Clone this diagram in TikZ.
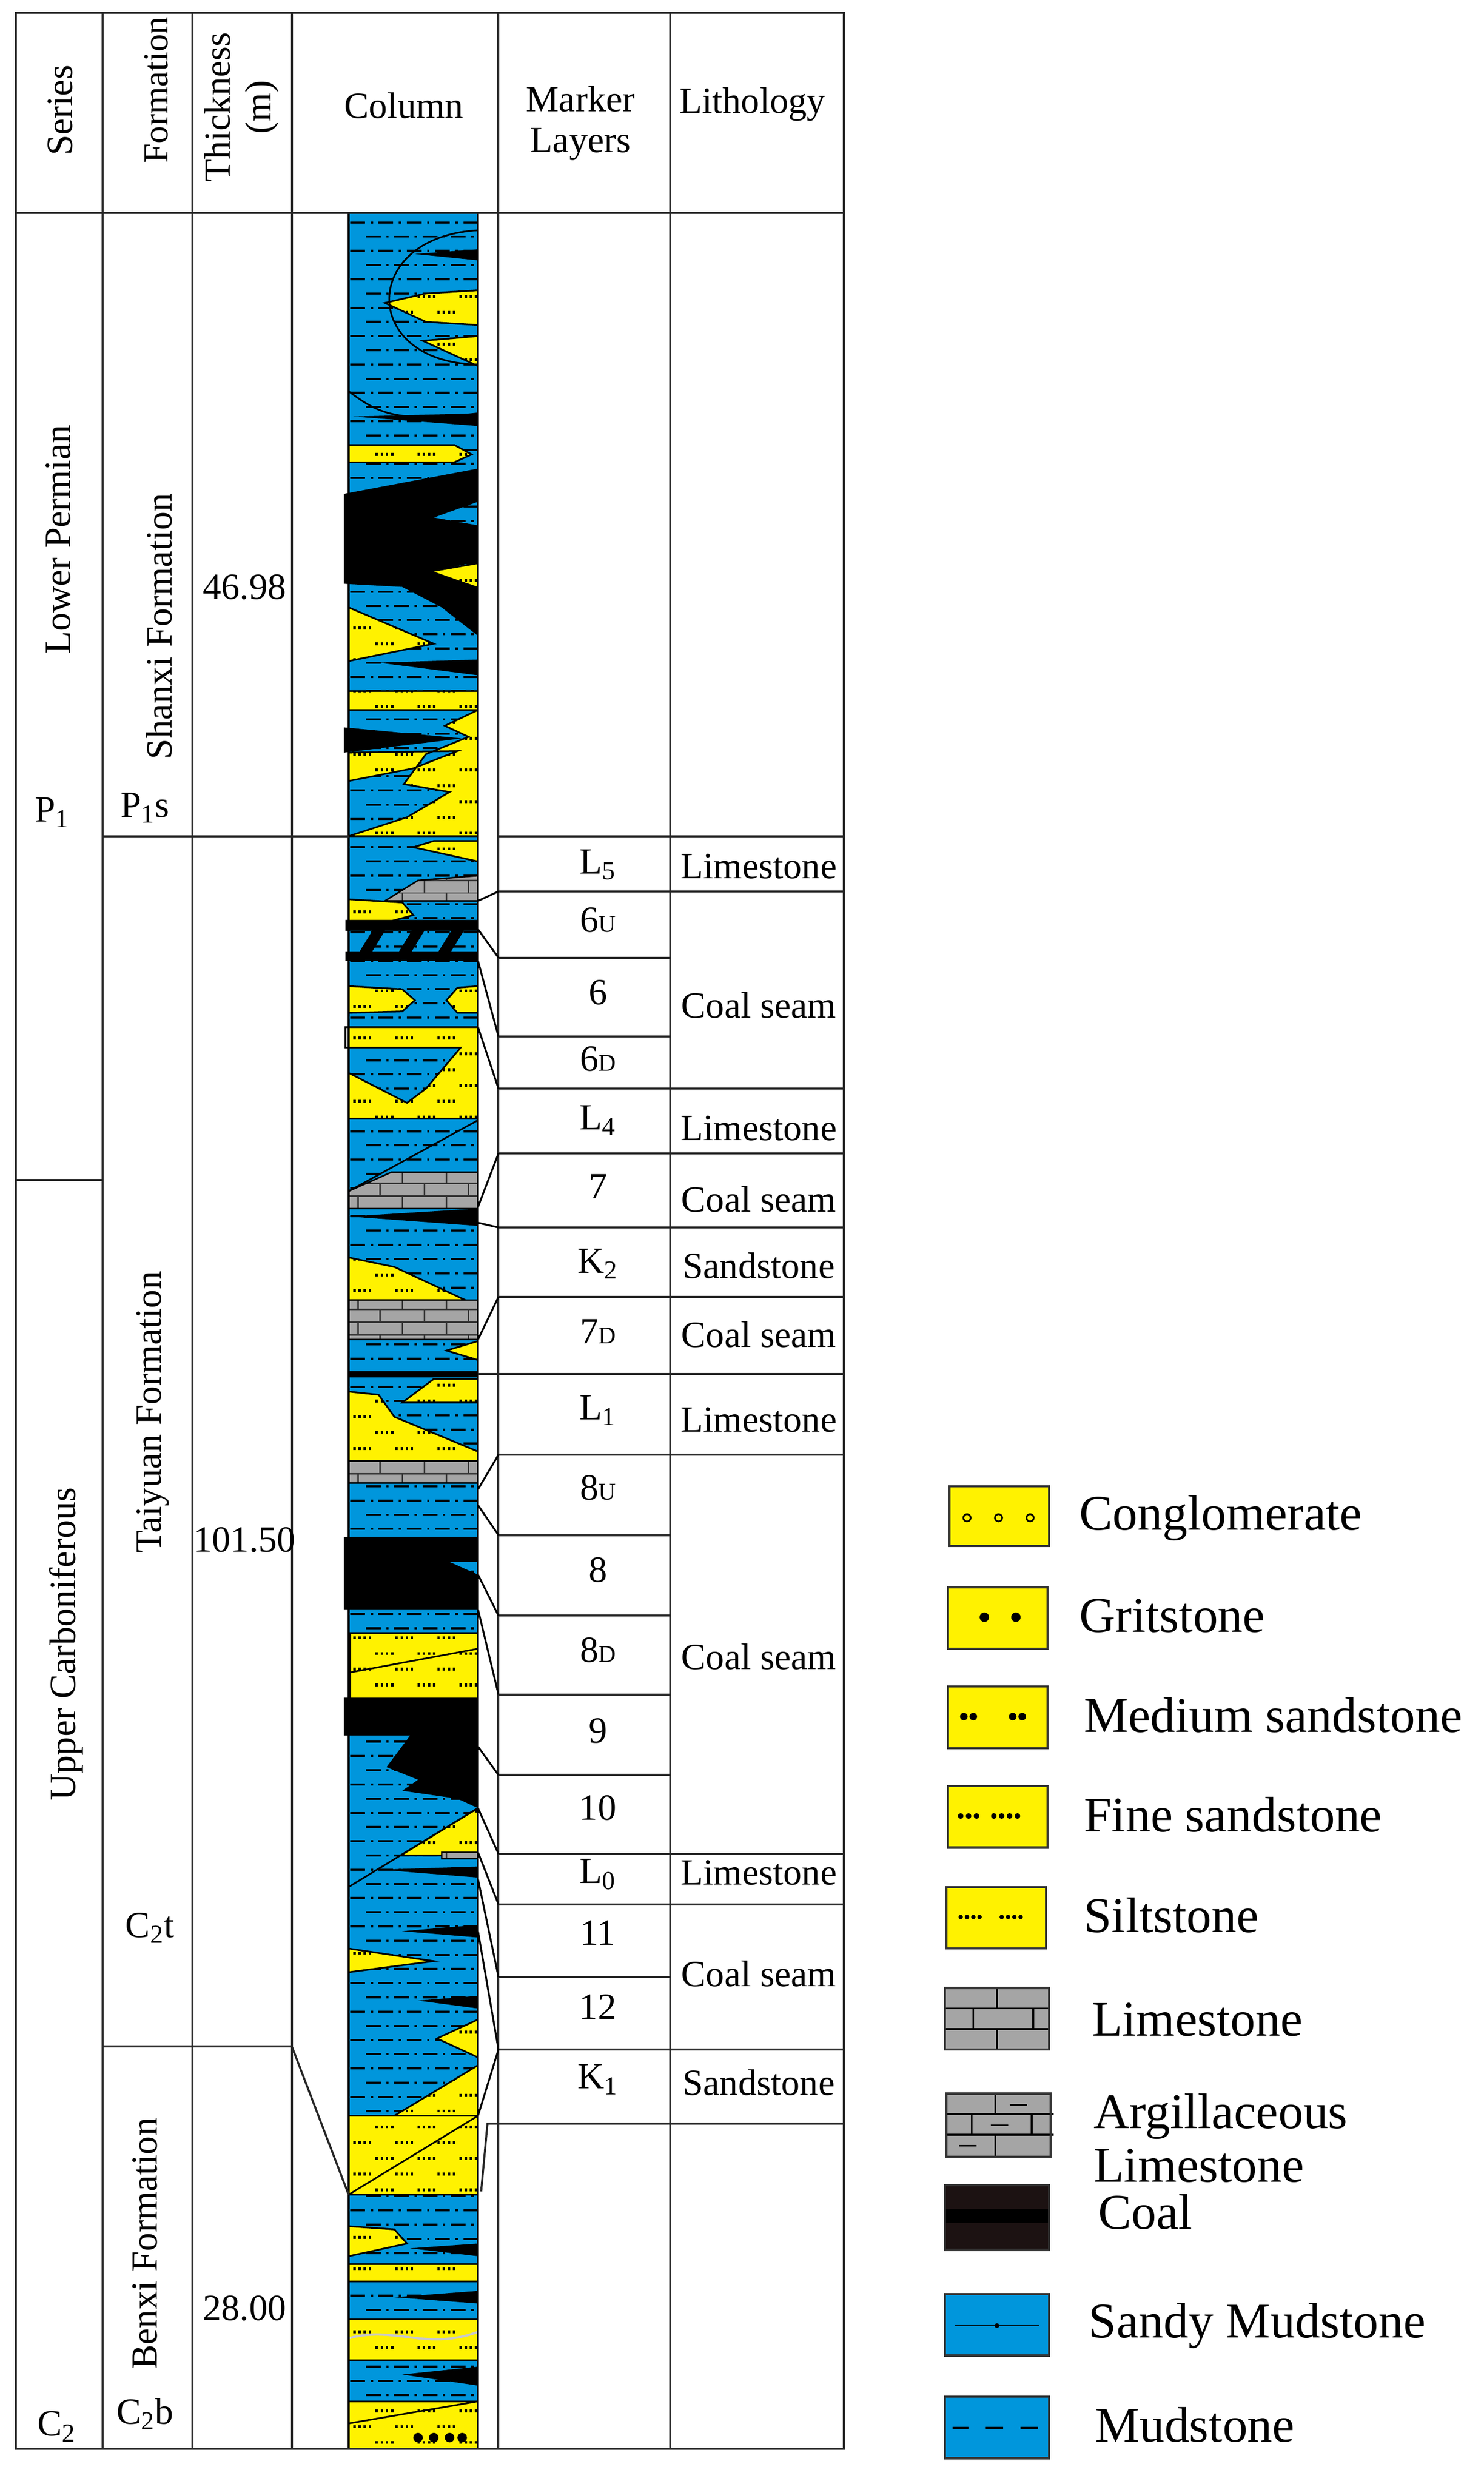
\documentclass[tikz,border=0pt]{standalone}
\usepackage{fontspec}
\setmainfont{Liberation Serif}
\definecolor{blu}{RGB}{0,150,220}
\definecolor{ylw}{RGB}{255,242,0}
\definecolor{gry}{RGB}{165,165,165}
\definecolor{coalc}{RGB}{28,18,18}
\newcommand{\sbs}[1]{\textsubscript{#1}}
\tikzset{
 tbl/.style={line width=1.1pt,black!85},
 conn/.style={line width=1pt},
 lbl/.style={font=\fontsize{20}{22}\selectfont,inner sep=0pt},
 leg/.style={font=\fontsize{27}{29}\selectfont,inner sep=0pt,anchor=west},
 mud/.style={line width=1.1pt,dash pattern=on 8pt off 3pt on 1.3pt off 3pt},
 dots/.style={line width=1.6pt,dash pattern=on 1.3pt off 1.5pt on 1.3pt off 1.5pt on 1.3pt off 1.5pt on 1.3pt off 13pt},
 legbox/.style={line width=1.2pt,draw=black!80},
}
\newcommand{\ylwpath}{
(244,192) -- (270,186) -- (303,184) -- (303,206) -- (270,204) -- cycle
(268,216) -- (303,213) -- (303,232) -- cycle
(221,282) -- (288,282) -- (299,288) -- (288,293) -- (221,293) -- cycle
(274,362) -- (303,357) -- (303,372) -- (282,372) -- cycle
(221,385) -- (275,408) -- (221,419) -- cycle
(221,438) -- (303,438) -- (303,450) -- (221,450) -- cycle
(303,450) -- (282,460) -- (297,467) -- (270,478) -- (256,497) -- (285,502) -- (258,518) -- (221,530) -- (303,530) -- cycle
(221,477) -- (290,476) -- (262,487) -- (221,495) -- cycle
(262,537) -- (275,533) -- (303,533) -- (303,546) -- cycle
(221,570) -- (255,572) -- (262,580) -- (240,586) -- (221,586) -- cycle
(221,625) -- (255,627) -- (263,634) -- (255,641) -- (221,642) -- cycle
(303,625) -- (290,626) -- (283,634) -- (290,642) -- (303,642) -- cycle
(219,651) -- (303,651) -- (303,709) -- (221,709) -- (221,680) -- (258,699) -- (270,690) -- (292,664) -- (219,664) -- cycle
(221,797) -- (250,803) -- (295,824) -- (221,824) -- cycle
(283,856) -- (303,850) -- (303,862) -- cycle
(255,889) -- (275,874) -- (303,874) -- (303,889) -- cycle
(221,882) -- (240,884) -- (250,898) -- (303,920) -- (303,926) -- (221,926) -- cycle
(222,1035) -- (303,1035) -- (303,1078) -- (222,1078) -- cycle
(275,1110) -- (303,1100) -- (303,1117) -- cycle
(254,1176) -- (303,1146) -- (303,1176) -- cycle
(221,1235) -- (275,1243) -- (221,1250) -- cycle
(277,1292) -- (303,1280) -- (303,1304) -- cycle
(250,1341) -- (303,1309) -- (303,1341) -- cycle
(221,1341) -- (303,1341) -- (303,1391) -- (221,1391) -- cycle
(221,1411) -- (250,1413) -- (258,1422) -- (221,1430) -- cycle
(221,1435) -- (303,1435) -- (303,1446) -- (221,1446) -- cycle
(221,1470) -- (303,1470) -- (303,1496) -- (221,1496) -- cycle
(221,1522) -- (303,1522) -- (303,1552) -- (221,1552) -- cycle
}
\newcommand{\grypath}{
(244,571) -- (265,558) -- (303,555) -- (303,571) -- cycle
(221,755) -- (248,743) -- (303,743) -- (303,766) -- (221,766) -- cycle
(221,824) rectangle (303,849)
(221,926) rectangle (303,940)
(280,1174) rectangle (303,1178)
}
\newcommand{\coalpath}{
(263,161) -- (303,158) -- (303,165) -- cycle
(224,264) -- (303,262) -- (303,270) -- cycle
(218,313) -- (303,297) -- (303,318) -- (275,328) -- (303,333) -- (303,356) -- (274,362) -- (303,372) -- (303,403) -- (280,385) -- (255,372) -- (218,370) -- cycle
(240,420) -- (303,418) -- (303,428) -- cycle
(218,461) -- (293,468) -- (218,477) -- cycle
(219,583) rectangle (303,590)
(219,603) rectangle (303,609)
(228,603) -- (236,590) -- (244,590) -- (236,603) -- cycle
(253,603) -- (261,590) -- (269,590) -- (261,603) -- cycle
(278,603) -- (286,590) -- (294,590) -- (286,603) -- cycle
(221,771) -- (303,766) -- (303,777) -- cycle
(221,869) rectangle (303,873)
(218,974) -- (303,974) -- (303,990) -- (285,990) -- (303,998) -- (303,1020) -- (218,1020) -- cycle
(218,1076) -- (303,1076) -- (303,1146) -- (290,1140) -- (255,1135) -- (265,1128) -- (245,1120) -- (260,1100) -- (218,1100) -- cycle
(240,1185) -- (303,1183) -- (303,1190) -- cycle
(255,1224) -- (303,1220) -- (303,1228) -- cycle
(265,1268) -- (303,1265) -- (303,1273) -- cycle
(260,1425) -- (303,1422) -- (303,1430) -- cycle
(250,1456) -- (303,1452) -- (303,1460) -- cycle
(255,1505) -- (303,1500) -- (303,1512) -- cycle
}
\begin{document}
\begin{tikzpicture}[x=0.03cm,y=-0.03cm]
\useasboundingbox (0,0) rectangle (940.5,1574.4);
\fill[white] (0,0) rectangle (940.5,1574.4);
% ---- column ----
\fill[blu] (221,135) rectangle (303,1552);
\begin{scope}
\clip (221,135) rectangle (303,1552);
\foreach \r in {0,...,78}{
 \draw[mud] (222,{141+18*\r}) -- (303,{141+18*\r});
 \draw[mud] (232,{150+18*\r}) -- (303,{150+18*\r});
}
\fill[ylw] \ylwpath;
\begin{scope}
 \clip \ylwpath;
 \foreach \r in {0,...,142}{
  \draw[dots] ({224+mod(\r,2)*14},{138+10*\r}) -- (303,{138+10*\r});
 }
\end{scope}
\end{scope}
\draw[line width=0.9pt] \ylwpath;
\fill[gry] \grypath;
\begin{scope}
 \clip \grypath;
 \foreach \r in {0,...,80}{
  \draw[line width=0.8pt,black!80] (221,{550+8*\r}) -- (303,{550+8*\r});
  \foreach \k in {0,...,3}{
   \draw[line width=0.8pt,black!80] ({227+mod(\r,2)*14+28*\k},{550+8*\r}) -- ++(0,8);
  }
 }
\end{scope}
\draw[line width=0.8pt] \grypath;
\fill[black] \coalpath;
% thin contact lines
\draw[line width=0.9pt] (303,146) .. controls (228,150) and (228,230) .. (303,231);
\draw[line width=0.9pt] (221,248) .. controls (240,262) and (250,268) .. (303,262);
\draw[line width=0.9pt] (221,755) -- (303,710);
\draw[line width=0.9pt] (221,1196) -- (303,1146);
\draw[line width=0.9pt] (221,1391) -- (303,1341);
\draw[line width=0.9pt] (222,1060) -- (303,1045);
\draw[line width=1.2pt,gry!60] (221,1482) .. controls (250,1474) and (270,1490) .. (303,1478);
\draw[line width=0.9pt] (221,1536) -- (303,1522);
\foreach \xx in {265,275,285,293}{\fill[black] (\xx,1545) circle (3);}
\draw[line width=1pt] (221,135) rectangle (303,1552);
% ---- table ----
\draw[tbl] (10,8) rectangle (535,1552);
\foreach \xx in {65,122,185,316,425}{\draw[tbl] (\xx,8) -- (\xx,1552);}
\draw[tbl] (10,135) -- (535,135);
\draw[tbl] (10,748) -- (65,748);
\draw[tbl] (65,530) -- (221,530);
\draw[tbl] (316,530) -- (535,530);
\draw[tbl] (65,1297) -- (185,1297) -- (221,1391);
% marker row lines
\foreach \ym/\yc in {565/571,690/651,731/765,778/775,822/849,922/944,1175/1146,1207/1174,1299/1224}{
 \draw[tbl] (316,\ym) -- (535,\ym);
 \draw[conn] (303,\yc) -- (316,\ym);
}
\foreach \ym/\yc in {607/589,657/609,973/954,1024/998,1074/1020,1125/1107,1253/1191}{
 \draw[tbl] (316,\ym) -- (425,\ym);
 \draw[conn] (303,\yc) -- (316,\ym);
}
\draw[tbl] (303,871) -- (535,871);
\draw[conn] (303,1341) -- (316,1299);
\draw[tbl] (535,1346) -- (309,1346) -- (305,1389);
% header
\node[lbl,rotate=90] (hs) at (38,70) {Series};
\node[lbl,rotate=90,font=\fontsize{19}{21}\selectfont] (hf) at (99,57) {Formation};
\node[lbl,rotate=90,align=center] (ht) at (153,68) {Thickness\\(m)};
\node[lbl] (hc) at (256,67) {Column};
\node[lbl,align=center] (hm) at (368,78) {Marker\\Layers};
\node[lbl] (hl) at (477,66) {Lithology};
% series / formation
\node[lbl,rotate=90] (s1) at (37,342) {Lower Permian};
\node[lbl] (s1c) at (33,515) {P\sbs{1}};
\node[lbl,rotate=90] (s2) at (42,1042) {Upper Carboniferous};
\node[lbl] (s2c) at (36,1538) {C\sbs{2}};
\node[lbl,rotate=90] (f1) at (101,397) {Shanxi Formation};
\node[lbl] (f1c) at (92,512) {P\sbs{1}s};
\node[lbl,rotate=90] (f2) at (97,895) {Taiyuan Formation};
\node[lbl] (f2c) at (95,1222) {C\sbs{2}t};
\node[lbl,rotate=90] (f3) at (92,1422) {Benxi Formation};
\node[lbl] (f3c) at (92,1530) {C\sbs{2}b};
\node[lbl] (t1) at (155,372) {46.98};
\node[lbl] (t2) at (155,976) {101.50};
\node[lbl] (t3) at (155,1463) {28.00};
% markers
\newcommand{\sm}[1]{{\fontsize{13}{13}\selectfont #1}}
\foreach \nm/\yy/\tx in {m1/548/L\sbs{5},m2/583/6\sm{U},m3/629/6,m4/671/6\sm{D},m5/710/L\sbs{4},m6/752/7,m7/801/K\sbs{2},m8/844/7\sm{D},m9/894/L\sbs{1},m10/943/8\sm{U},m11/995/8,m12/1046/8\sm{D},m13/1097/9,m14/1146/10,m15/1188/L\sbs{0},m16/1225/11,m17/1272/12,m18/1318/K\sbs{1}}{
 \node[lbl] (\nm) at (379,\yy) {\tx};
}
\foreach \nm/\yy/\tx in {l1/549/Limestone,l2/637/Coal seam,l3/715/Limestone,l4/760/Coal seam,l5/802/Sandstone,l6/846/Coal seam,l7/900/Limestone,l8/1050/Coal seam,l9/1187/Limestone,l10/1251/Coal seam,l11/1320/Sandstone}{
 \node[lbl] (\nm) at (481,\yy) {\tx};
}
% ---- legend ----
\begin{scope}
\fill[ylw] (602,942) rectangle (665,980); \draw[legbox] (602,942) rectangle (665,980);
\foreach \xx in {613,633,653}{\draw[line width=0.9pt] (\xx,962) circle (2.3);}
\fill[ylw] (601,1006) rectangle (664,1045); \draw[legbox] (601,1006) rectangle (664,1045);
\foreach \xx in {624,644}{\fill (\xx,1025) circle (3);}
\fill[ylw] (601,1069) rectangle (664,1108); \draw[legbox] (601,1069) rectangle (664,1108);
\foreach \xx in {611,617,642,648}{\fill (\xx,1088) circle (2.4);}
\fill[ylw] (601,1132) rectangle (664,1171); \draw[legbox] (601,1132) rectangle (664,1171);
\foreach \xx in {609,614,619,630,635,640,645}{\fill (\xx,1151) circle (1.8);}
\fill[ylw] (600,1196) rectangle (663,1235); \draw[legbox] (600,1196) rectangle (663,1235);
\foreach \xx in {609,613,617,621,635,639,643,647}{\fill (\xx,1215) circle (1.4);}
\fill[gry] (599,1260) rectangle (665,1299);
\draw[line width=0.9pt] (599,1273) -- (665,1273) (599,1286) -- (665,1286) (632,1260) -- (632,1273) (617,1273) -- (617,1286) (655,1273) -- (655,1286) (632,1286) -- (632,1299);
\draw[legbox] (599,1260) rectangle (665,1299);
\fill[gry] (600,1327) rectangle (666,1367);
\draw[line width=0.9pt] (600,1340) -- (668,1340) (600,1353) -- (668,1353) (631,1327) -- (631,1340) (616,1340) -- (616,1353) (654,1340) -- (654,1353) (631,1353) -- (631,1367);
\draw[line width=0.9pt] (640,1334) -- (651,1334) (628,1347) -- (639,1347) (608,1360) -- (619,1360);
\draw[legbox] (600,1327) rectangle (666,1367);
\fill[coalc] (599,1385) rectangle (665,1426);
\fill[black] (599,1400) rectangle (665,1409);
\draw[legbox] (599,1385) rectangle (665,1426);
\fill[blu] (599,1454) rectangle (665,1493); \draw[legbox] (599,1454) rectangle (665,1493);
\draw[line width=0.4pt] (605,1474) -- (659,1474); \fill (632,1474) circle (1.5);
\fill[blu] (599,1519) rectangle (665,1558); \draw[legbox] (599,1519) rectangle (665,1558);
\draw[line width=1.4pt] (604,1539) -- (614,1539) (625,1539) -- (636,1539) (647,1539) -- (658,1539);
\end{scope}
\node[leg] (g1) at (684,962) {Conglomerate};
\node[leg] (g2) at (684,1024) {Gritstone};
\node[leg] (g3) at (687,1087) {Medium sandstone};
\node[leg] (g4) at (687,1150) {Fine sandstone};
\node[leg] (g5) at (687,1214) {Siltstone};
\node[leg] (g6) at (692,1280) {Limestone};
\node[leg,align=left] (g7) at (693,1355) {Argillaceous\\Limestone};
\node[leg] (g8) at (696,1402) {Coal};
\node[leg] (g9) at (690,1474) {Sandy Mudstone};
\node[leg] (g10) at (694,1537) {Mudstone};
\end{tikzpicture}
\end{document}
